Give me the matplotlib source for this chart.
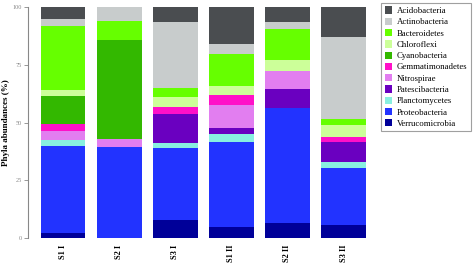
import numpy as np
import matplotlib
matplotlib.use('Agg')
import matplotlib.pyplot as plt

plt.rcParams['font.family'] = ['Liberation Serif', 'DejaVu Serif']

samples = ['S1 I', 'S2 I', 'S3 I', 'S1 II', 'S2 II', 'S3 II']

# phyla listed bottom -> top of the stack
phyla = ['Verrucomicrobia', 'Proteobacteria', 'Planctomycetes', 'Patescibacteria',
         'Nitrospirae', 'Gemmatimonadetes', 'Cyanobacteria', 'Chloroflexi',
         'Bacteroidetes', 'Actinobacteria', 'Acidobacteria']

verrucomicrobia  = [2.0, 0.0, 7.7, 4.8, 6.5, 5.8]
proteobacteria   = [37.9, 39.5, 31.2, 37.0, 50.0, 24.4]
planctomycetes   = [2.4, 0.0, 2.4, 3.1, 0.0, 2.7]
patescibacteria  = [0.0, 0.0, 12.6, 2.8, 8.1, 8.7]
nitrospirae      = [4.1, 3.6, 0.0, 10.1, 7.7, 0.0]
gemmatimonadetes = [3.2, 0.0, 3.0, 4.0, 0.0, 2.3]
cyanobacteria    = [12.1, 42.6, 0.0, 0.0, 0.0, 0.0]
chloroflexi      = [2.5, 0.0, 4.2, 4.1, 4.9, 4.9]
bacteroidetes    = [27.9, 8.5, 3.9, 13.7, 13.6, 2.8]
actinobacteria   = [2.8, 5.8, 28.5, 4.4, 2.8, 35.4]
acidobacteria    = [5.1, 0.0, 6.5, 16.0, 6.4, 13.0]

values = [verrucomicrobia, proteobacteria, planctomycetes, patescibacteria,
          nitrospirae, gemmatimonadetes, cyanobacteria, chloroflexi,
          bacteroidetes, actinobacteria, acidobacteria]

colors = ['#000099', '#2233ff', '#88f0e0', '#6a00c0', '#e27ef0', '#ff10c8',
          '#33b800', '#ccff99', '#66ff00', '#c8cccc', '#4a4d50']

fig = plt.figure(figsize=(4.74, 2.65), dpi=100)
ax = fig.add_axes([0.059, 0.102, 0.725, 0.8705])

x = np.arange(len(samples))
bottom = np.zeros(len(samples))
handles = []
for name, vals, col in zip(phyla, values, colors):
    vals = np.array(vals)
    b = ax.bar(x, vals, 0.8, bottom=bottom, color=col, label=name, linewidth=0)
    handles.append(b)
    bottom += vals

ax.set_xlim(-0.624, 5.5)
ax.set_ylim(0, 100)
ax.set_yticks([0, 25, 50, 75, 100])
ax.set_xticks(x)
ax.set_xticklabels(samples, rotation=90, fontsize=6, fontweight='bold')
ax.tick_params(axis='x', length=0, pad=5)
ax.tick_params(axis='y', labelsize=4.5, colors='#888888', length=3, width=0.6, pad=1.5)
for s in ['top', 'right', 'bottom']:
    ax.spines[s].set_visible(False)
ax.spines['left'].set_color('#888888')
ax.spines['left'].set_linewidth(0.8)
ax.set_ylabel('Phyla abundances (%)', fontsize=6.5, fontweight='bold')
ax.yaxis.set_label_coords(-0.052, 0.5)

leg = fig.legend(handles[::-1], phyla[::-1], loc='upper left',
                 bbox_to_anchor=(0.804, 0.989), fontsize=6.3, frameon=True,
                 fancybox=False, edgecolor='#888888', handlelength=0.9,
                 handleheight=0.9, handletextpad=0.5, labelspacing=0.3,
                 borderpad=0.4, borderaxespad=0)
leg.get_frame().set_linewidth(0.8)

fig.savefig('out.png', dpi=100)
